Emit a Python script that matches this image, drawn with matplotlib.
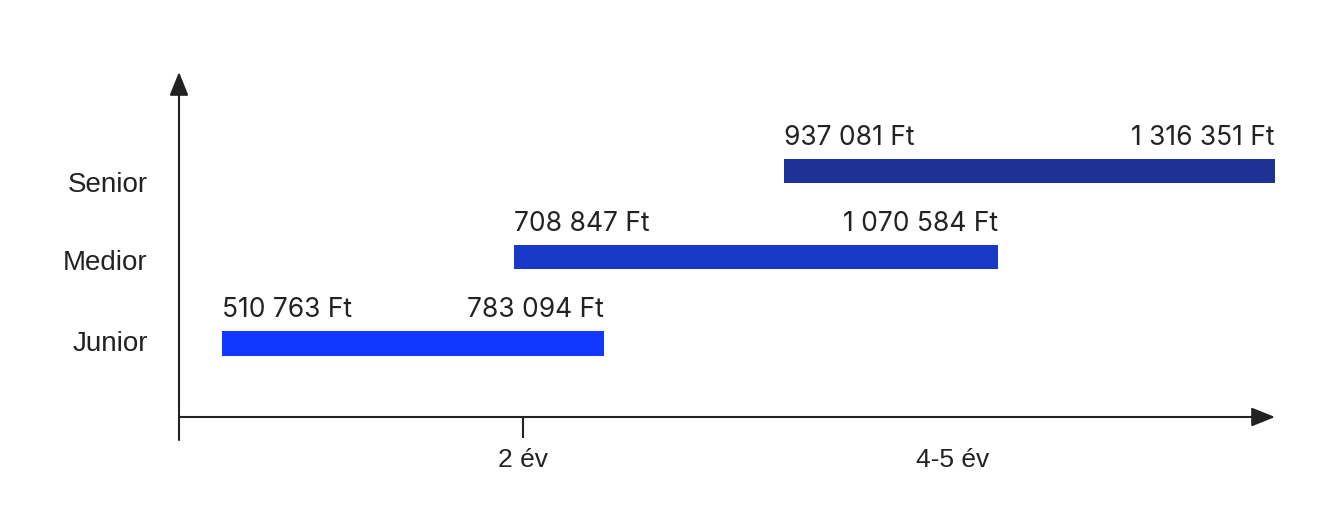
"""Salary ranges by seniority, drawn as floating bars over years of experience."""

import matplotlib.pyplot as plt
from matplotlib.patches import FancyArrowPatch

plt.rcParams["font.family"] = ["Liberation Sans", "DejaVu Sans"]

# Data
levels = ["Junior", "Medior", "Senior"]
start_years = [0.25, 1.95, 3.52]     # bar start (years of experience)
end_years = [2.47, 4.76, 6.37]       # bar end (years of experience)
low_salary = ["510 763 Ft", "708 847 Ft", "937 081 Ft"]
high_salary = ["783 094 Ft", "1 070 584 Ft", "1 316 351 Ft"]
colors = ["#1238FF", "#1838C6", "#1D3294"]
x_ticks = [2, 4.5]
x_tick_labels = ["2 év", "4-5 év"]

TEXT = "#222222"
VALUE_FONT = ["Inter", "DejaVu Sans"]

fig = plt.figure(figsize=(13.4, 5.25), dpi=100, facecolor="white")
ax = fig.add_axes([179 / 1340, 108 / 525, 1096 / 1340, 345 / 525])
ax.set_xlim(0, 6.372)
ax.set_ylim(-0.86, 3.151)

for i, lvl in enumerate(levels):
    ax.barh(i, end_years[i] - start_years[i], left=start_years[i],
            height=0.29, color=colors[i])
    ax.annotate(low_salary[i], (start_years[i], i), xytext=(0, 19),
                textcoords="offset points", ha="left", va="baseline",
                fontsize=19, color=TEXT, family=VALUE_FONT)
    ax.annotate(high_salary[i], (end_years[i], i), xytext=(0, 19),
                textcoords="offset points", ha="right", va="baseline",
                fontsize=19, color=TEXT, family=VALUE_FONT)

# category labels sit slightly off the bar centres in the original
nudge = [-0.01, -0.075, -0.16]
for i, lvl in enumerate(levels):
    ax.annotate(lvl, (0, i + nudge[i]), xycoords=("axes fraction", "data"),
                xytext=(-22.5, 0), textcoords="offset points",
                ha="right", va="center", fontsize=20, color=TEXT)

for s in ax.spines.values():
    s.set_visible(False)
ax.set_yticks([])
ax.set_xticks(x_ticks, x_tick_labels)
ax.tick_params(axis="x", length=15, width=1.5, color=TEXT, pad=7,
               labelsize=19, labelcolor=TEXT)
ax.xaxis.get_major_ticks()[1].tick1line.set_visible(False)

# axes with arrow heads
arrow_kw = dict(arrowstyle="-|>,head_length=0.72,head_width=0.29",
                mutation_scale=20, color=TEXT, lw=1.5,
                transform=ax.transAxes, clip_on=False, shrinkA=0, shrinkB=0)
ax.add_patch(FancyArrowPatch((0, 0), (1, 0), **arrow_kw))
ax.add_patch(FancyArrowPatch((0, -23 / 345), (0, 1), **arrow_kw))

fig.savefig("out.png", dpi=100)
